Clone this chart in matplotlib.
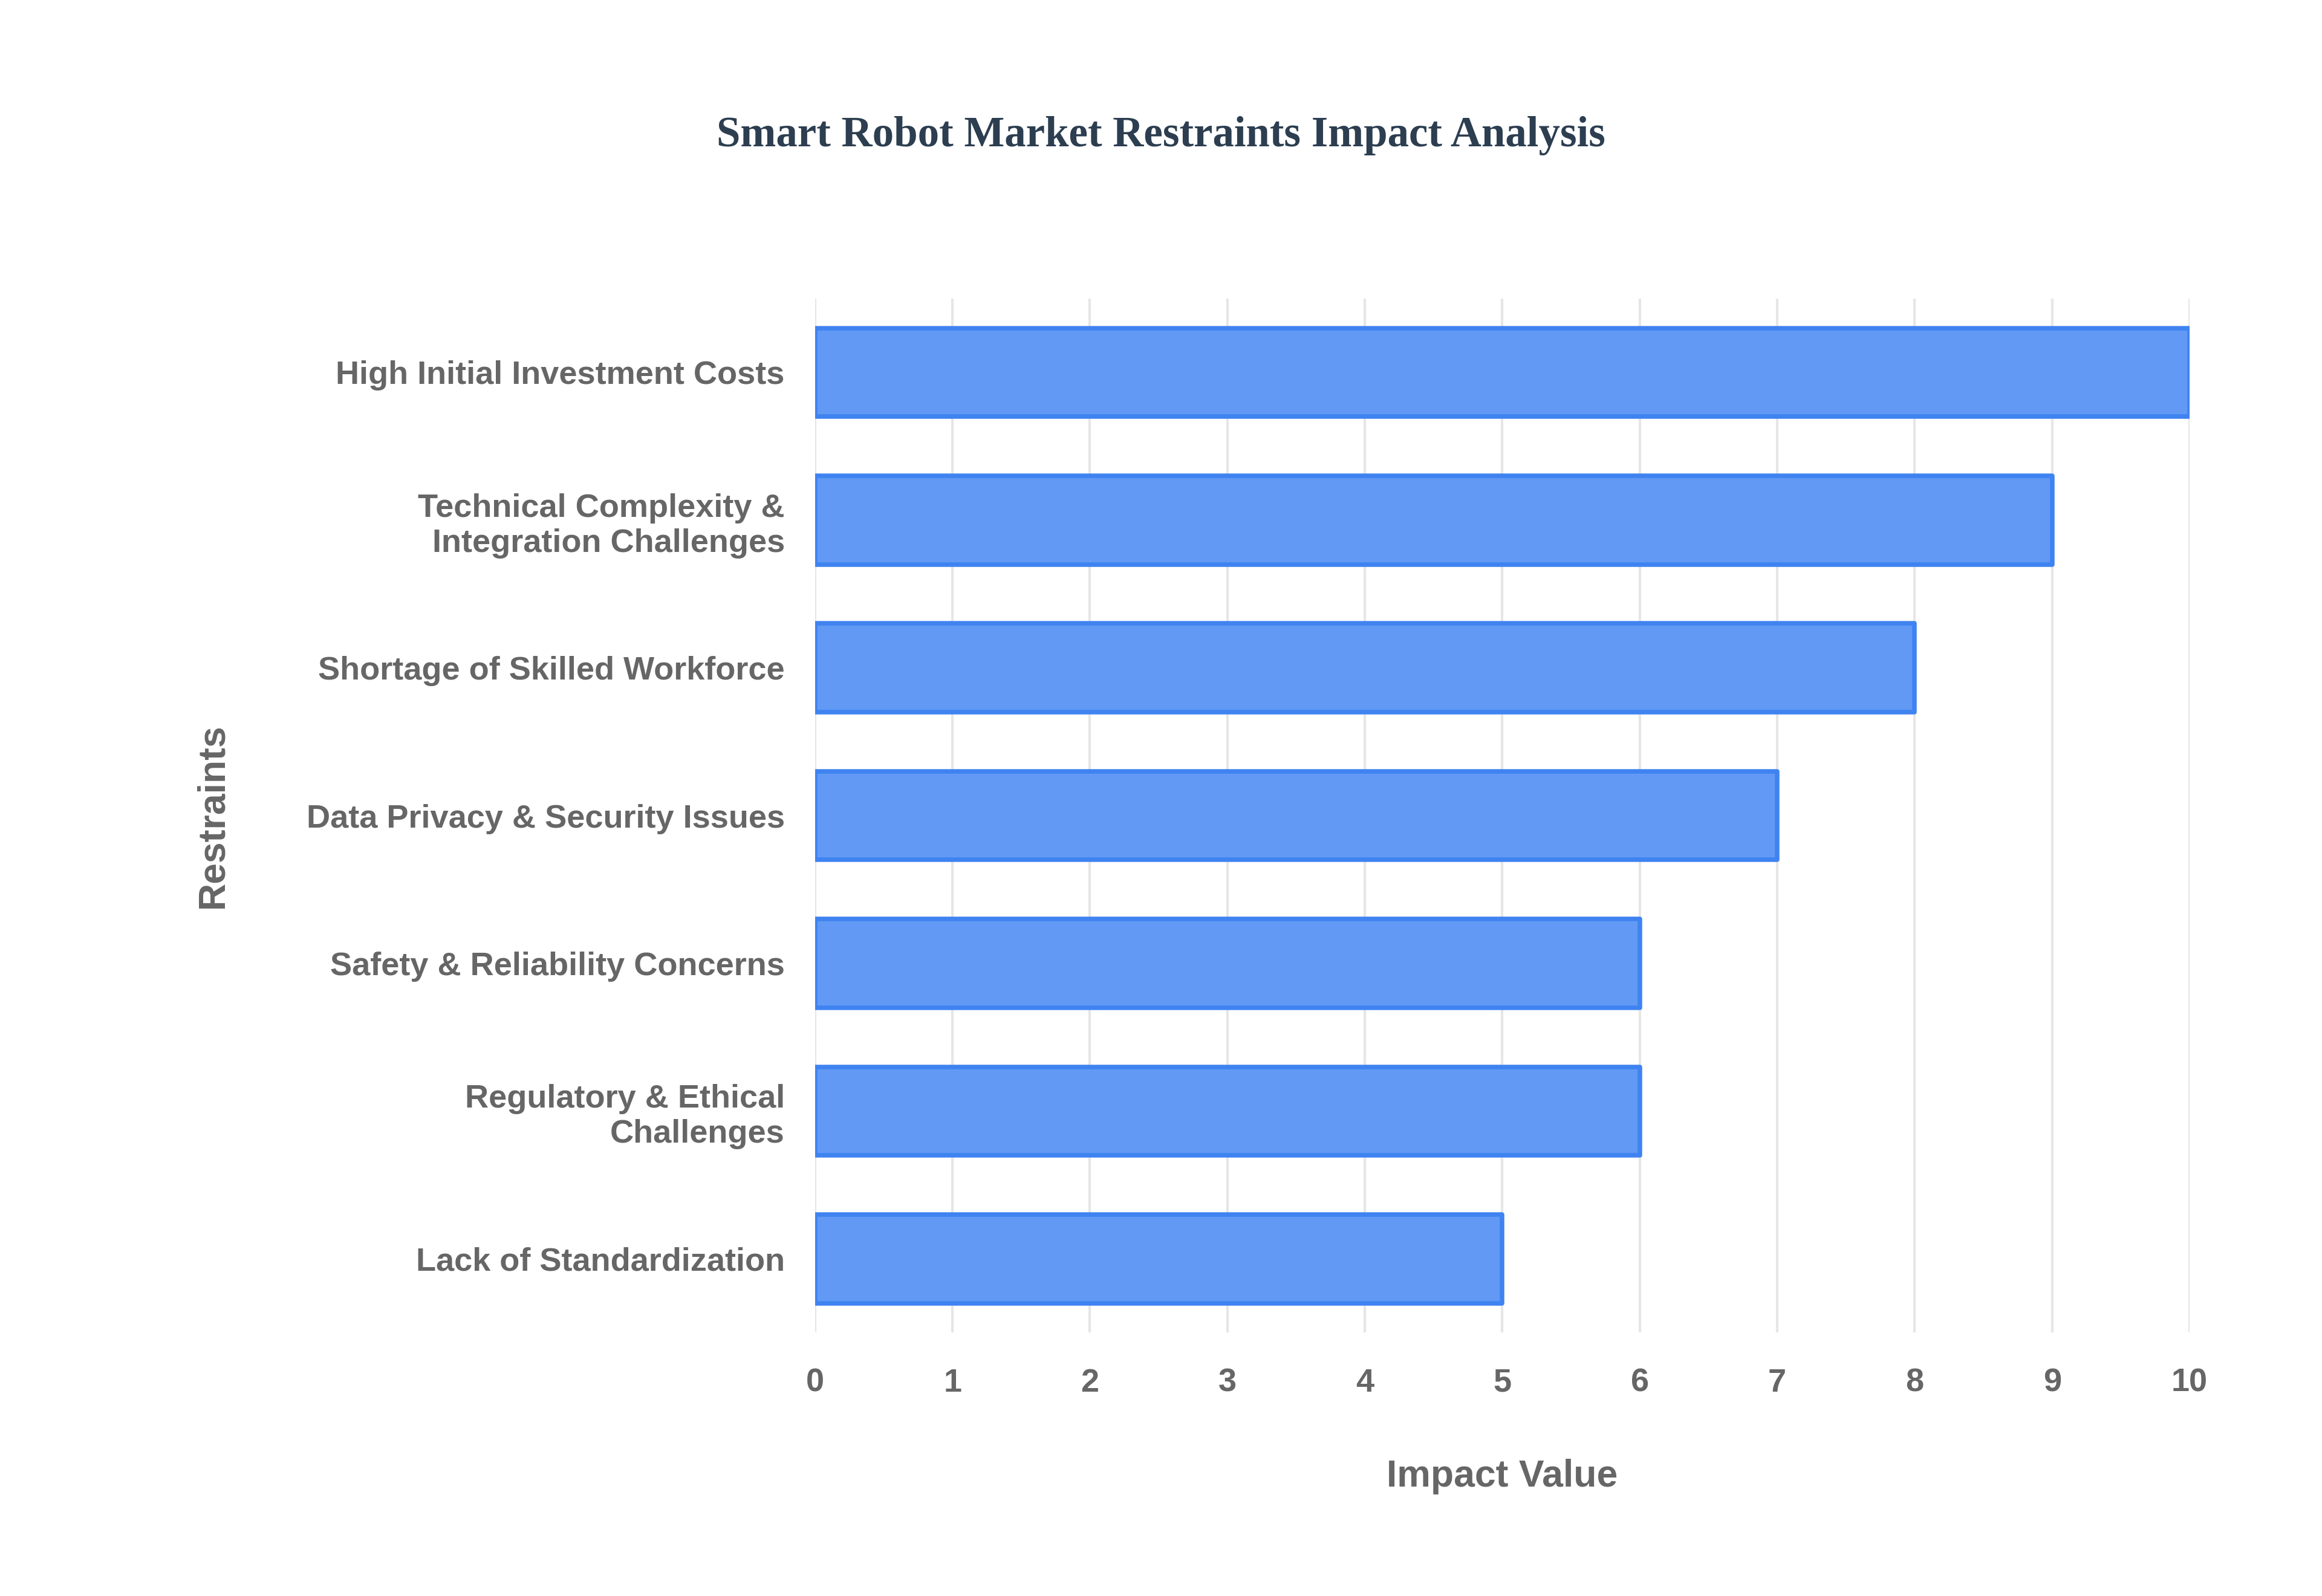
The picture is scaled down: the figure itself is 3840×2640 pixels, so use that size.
import matplotlib
matplotlib.use("Agg")
import matplotlib.pyplot as plt
from matplotlib import font_manager

categories = [
    "High Initial Investment Costs",
    "Technical Complexity &\nIntegration Challenges",
    "Shortage of Skilled Workforce",
    "Data Privacy & Security Issues",
    "Safety & Reliability Concerns",
    "Regulatory & Ethical\nChallenges",
    "Lack of Standardization",
]
values = [10, 9, 8, 7, 6, 6, 5]
xticks = list(range(0, 11))

names = {f.name for f in font_manager.fontManager.ttflist}
sans = "Liberation Sans Narrow" if "Liberation Sans Narrow" in names else "Liberation Sans"

fig = plt.figure(figsize=(12.8, 8.8), dpi=300)
ax = fig.add_axes([0.351, 0.165, 0.592, 0.648])

ypos = list(range(len(categories)))
ax.barh(ypos, values, height=0.6, color="#6199F5", edgecolor="#3F83F0",
        linewidth=1.8, joinstyle="round", zorder=3)
ax.set_ylim(len(categories) - 0.5, -0.5)
ax.set_xlim(0, 10)
ax.set_xticks(xticks)
ax.set_yticks(ypos)
ax.set_yticklabels(categories, fontsize=13, fontweight="bold", color="#666666", family=sans)
for lbl in ax.get_xticklabels():
    lbl.set_fontsize(13)
    lbl.set_fontweight("bold")
    lbl.set_color("#666666")
    lbl.set_family(sans)
ax.tick_params(length=0, pad=12)
ax.tick_params(axis="x", pad=14)
ax.grid(axis="x", color="#E6E6E6", linewidth=1, zorder=0)
for s in ax.spines.values():
    s.set_visible(False)

ax.set_xlabel("Impact Value", fontsize=15, fontweight="bold", color="#666666", family=sans, labelpad=24)
ax.set_ylabel("Restraints", fontsize=15, fontweight="bold", color="#666666", family=sans, labelpad=30)

fig.text(0.5, 0.915, "Smart Robot Market Restraints Impact Analysis", ha="center", va="center",
         fontsize=17, fontweight="bold", color="#2C3E50", family="Liberation Serif")

fig.savefig("out.png", dpi=300, facecolor="white")
